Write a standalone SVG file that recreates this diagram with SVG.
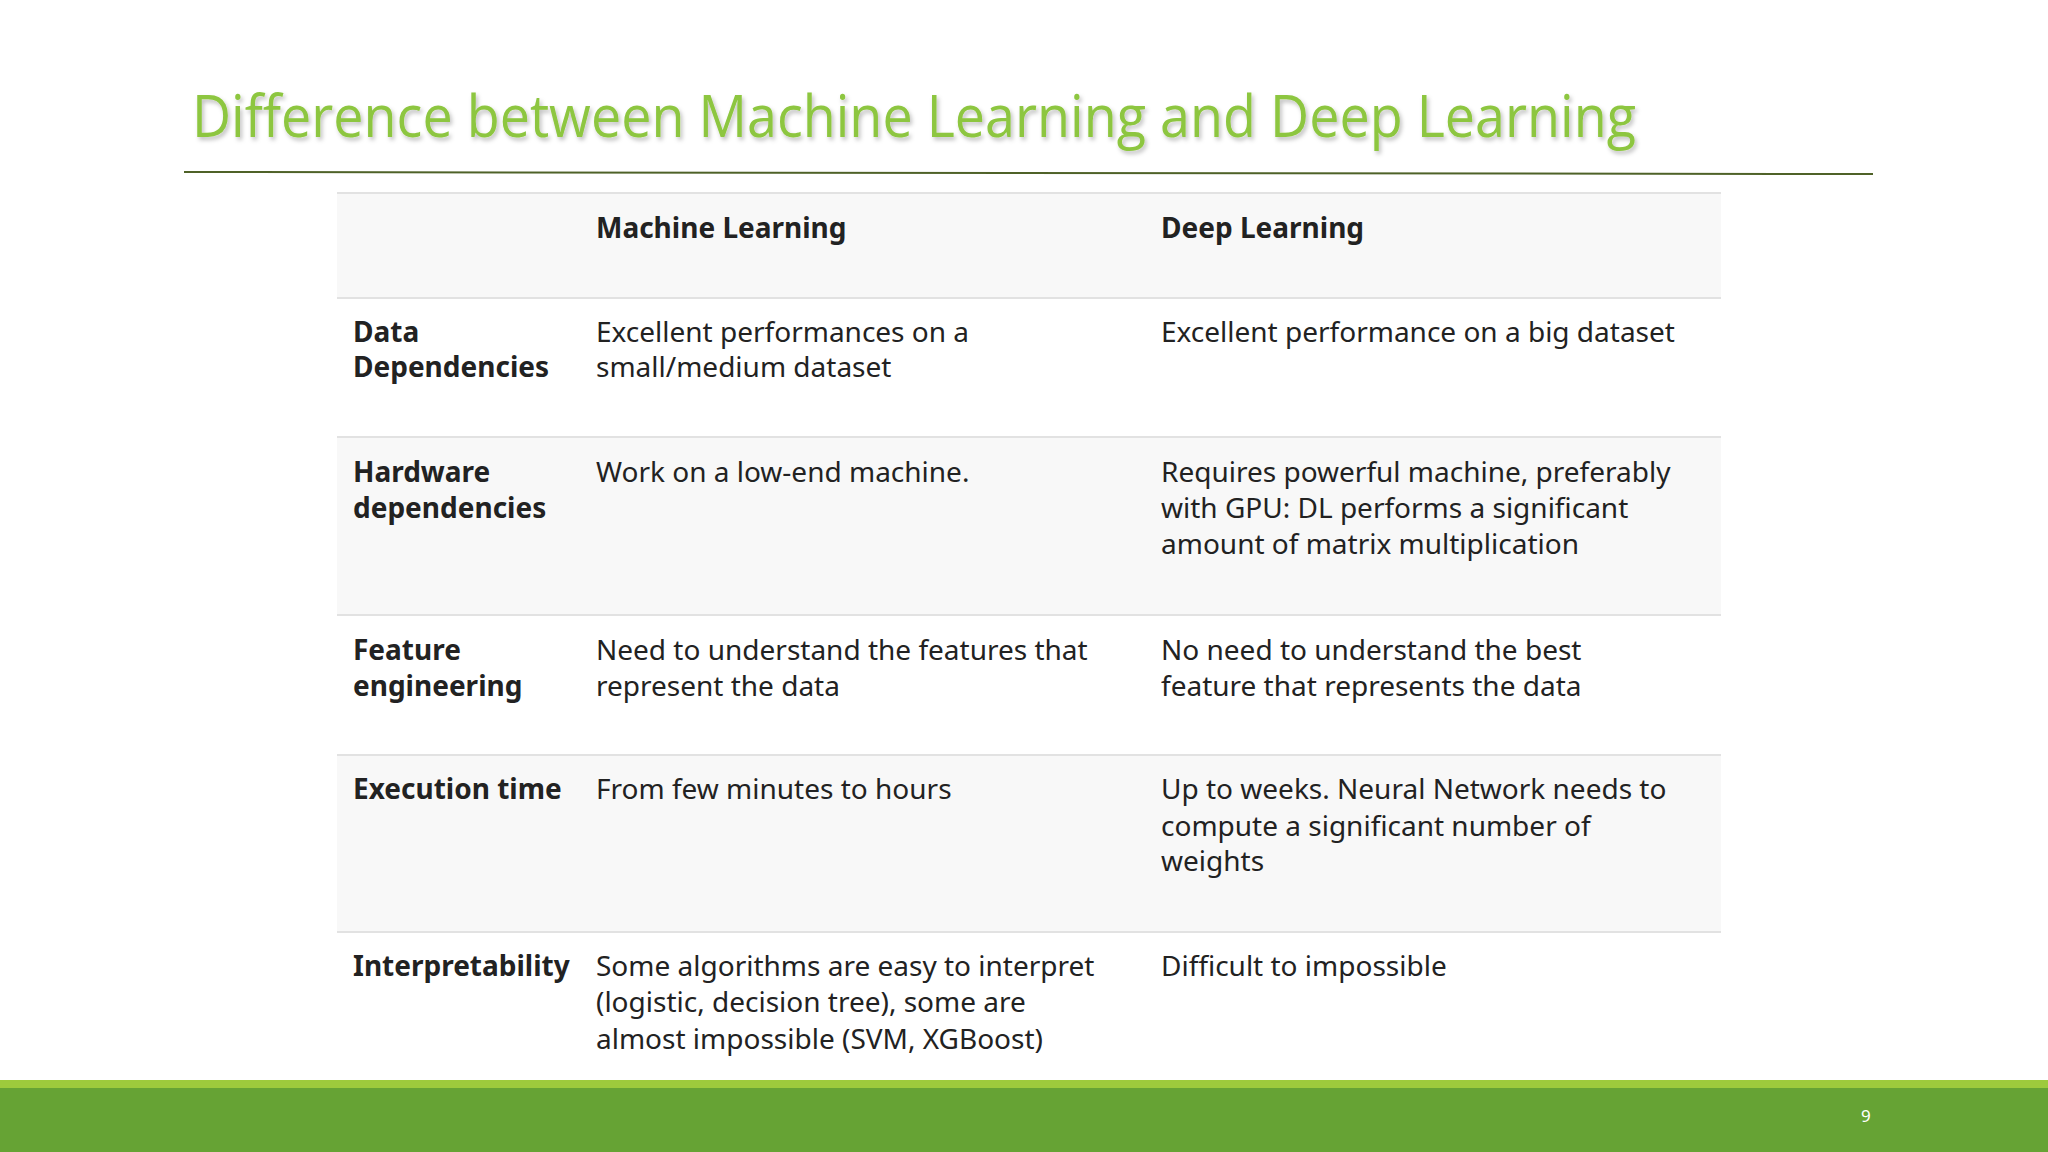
<svg xmlns="http://www.w3.org/2000/svg" width="2048" height="1152" viewBox="0 0 2048 1152">
<defs>
<style>
.t{font-family:"Noto Sans","Open Sans",sans-serif;font-size:28px;fill:#222}
.b{font-weight:bold}
.g{fill:#f8f8f8}
.ln{stroke:#e2e2e2;stroke-width:2}
</style>
<filter id="sh" x="-5%" y="-20%" width="110%" height="150%"><feDropShadow dx="2" dy="3" stdDeviation="2" flood-color="#000" flood-opacity="0.25"/></filter>
</defs>
<rect width="2048" height="1152" fill="#fff"/>
<g id="title"><text x="192" y="137" font-family="Open Sans,Noto Sans,sans-serif" font-size="58" fill="#8dc63f" filter="url(#sh)" textLength="1444" lengthAdjust="spacingAndGlyphs">Difference between Machine Learning and Deep Learning</text>
<line x1="184" y1="172" x2="1873" y2="174" stroke="#4f6228" stroke-width="2"/></g>
<g id="table">
<rect class="g" x="337" y="193" width="1384" height="105"/>
<rect class="g" x="337" y="437" width="1384" height="178"/>
<rect class="g" x="337" y="755" width="1384" height="177"/>
<line class="ln" x1="337" y1="193" x2="1721" y2="193"/>
<line class="ln" x1="337" y1="298" x2="1721" y2="298"/>
<line class="ln" x1="337" y1="437" x2="1721" y2="437"/>
<line class="ln" x1="337" y1="615" x2="1721" y2="615"/>
<line class="ln" x1="337" y1="755" x2="1721" y2="755"/>
<line class="ln" x1="337" y1="932" x2="1721" y2="932"/>
<g class="t b"><text x="596" y="238">Machine Learning</text><text x="1161" y="238">Deep Learning</text>
<text x="353" y="342">Data</text><text x="353" y="377">Dependencies</text>
<text x="353" y="482">Hardware</text><text x="353" y="518">dependencies</text>
<text x="353" y="660">Feature</text><text x="353" y="696">engineering</text>
<text x="353" y="799">Execution time</text>
<text x="353" y="976">Interpretability</text></g>
<g class="t">
<text x="596" y="342">Excellent performances on a</text><text x="596" y="377">small/medium dataset</text>
<text x="1161" y="342">Excellent performance on a big dataset</text>
<text x="596" y="482">Work on a low-end machine.</text>
<text x="1161" y="482">Requires powerful machine, preferably</text><text x="1161" y="518">with GPU: DL performs a significant</text><text x="1161" y="554">amount of matrix multiplication</text>
<text x="596" y="660">Need to understand the features that</text><text x="596" y="696">represent the data</text>
<text x="1161" y="660">No need to understand the best</text><text x="1161" y="696">feature that represents the data</text>
<text x="596" y="799">From few minutes to hours</text>
<text x="1161" y="799">Up to weeks. Neural Network needs to</text><text x="1161" y="836">compute a significant number of</text><text x="1161" y="871">weights</text>
<text x="596" y="976">Some algorithms are easy to interpret</text><text x="596" y="1012">(logistic, decision tree), some are</text><text x="596" y="1049">almost impossible (SVM, XGBoost)</text>
<text x="1161" y="976">Difficult to impossible</text>
</g></g>
<g id="footer"><rect x="0" y="1080" width="2048" height="9" fill="#9dca3c"/><rect x="0" y="1088" width="2048" height="64" fill="#66a334"/>
<text x="1861" y="1122" font-family="Noto Sans,sans-serif" font-size="17" fill="#fff">9</text></g>
</svg>
